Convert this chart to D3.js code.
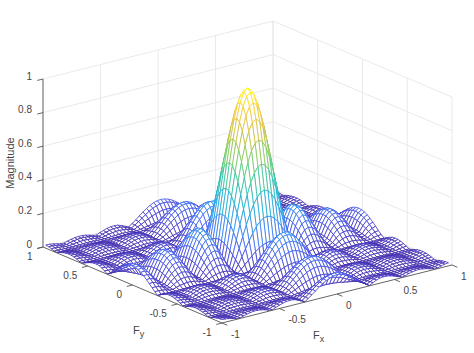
<!DOCTYPE html>
<html>
<head>
<meta charset="utf-8">
<script src="https://cdn.jsdelivr.net/npm/d3@7"></script>
<style>
html, body { margin: 0; padding: 0; background: #fff; }
text { font-family: "Liberation Sans", Arial, sans-serif; fill: #454545; }
</style>
</head>
<body>
<svg id="chart"></svg>
<script>
// frequency samples of one mesh direction, the mesh stops one step short of +1
let freqs = [-1, -0.96875, -0.9375, -0.90625, -0.875, -0.84375, -0.8125, -0.78125, -0.75, -0.71875, -0.6875,
	-0.65625, -0.625, -0.59375, -0.5625, -0.53125, -0.5, -0.46875, -0.4375, -0.40625, -0.375, -0.34375,
	-0.3125, -0.28125, -0.25, -0.21875, -0.1875, -0.15625, -0.125, -0.09375, -0.0625, -0.03125, 0,
	0.03125, 0.0625, 0.09375, 0.125, 0.15625, 0.1875, 0.21875, 0.25, 0.28125, 0.3125, 0.34375, 0.375,
	0.40625, 0.4375, 0.46875, 0.5, 0.53125, 0.5625, 0.59375, 0.625, 0.65625, 0.6875, 0.71875, 0.75,
	0.78125, 0.8125, 0.84375, 0.875, 0.90625, 0.9375, 0.96875];

// magnitudes estimated for one quadrant, row = |Fy|, column = |Fx|, steps of 1/32.
// the surface looks symmetric about both axes so the other quadrants mirror this one
let magnitude = [
	[1,.981,.925,.835,.718,.582,.434,.285,.143,.016,.088,.166,.214,.233,.224,.192,.143,.082,.018,.043,.095,.134,.155,.158,.143,.112,.070,.022,.028,.074,.105,.118,.115],
	[.981,.962,.907,.819,.704,.571,.426,.280,.140,.016,.086,.163,.210,.229,.220,.188,.140,.080,.018,.042,.093,.131,.152,.155,.140,.110,.069,.022,.027,.073,.103,.115,.113],
	[.925,.907,.856,.772,.664,.538,.401,.264,.132,.015,.081,.154,.198,.216,.207,.178,.132,.076,.017,.040,.088,.124,.143,.146,.132,.104,.065,.020,.026,.068,.097,.109,.106],
	[.835,.819,.772,.697,.600,.486,.362,.238,.119,.013,.073,.139,.179,.195,.187,.160,.119,.068,.015,.036,.079,.112,.129,.132,.119,.094,.058,.018,.023,.062,.088,.099,.096],
	[.718,.704,.664,.600,.516,.418,.312,.205,.103,.011,.063,.119,.154,.167,.161,.138,.103,.059,.013,.031,.068,.096,.111,.113,.103,.080,.050,.016,.020,.053,.076,.085,.083],
	[.582,.571,.538,.486,.418,.339,.253,.166,.083,.009,.051,.097,.125,.136,.130,.112,.083,.048,.010,.025,.055,.078,.090,.092,.083,.065,.041,.013,.016,.043,.061,.069,.067],
	[.434,.426,.401,.362,.312,.253,.188,.124,.062,.007,.038,.072,.093,.101,.097,.083,.062,.036,.008,.019,.041,.058,.067,.069,.062,.049,.030,.010,.012,.032,.045,.052,.050],
	[.285,.280,.264,.238,.205,.166,.124,.081,.041,.005,.025,.047,.061,.066,.064,.055,.041,.023,.005,.012,.027,.038,.044,.045,.041,.032,.020,.006,.008,.021,.030,.033,.033],
	[.143,.140,.132,.119,.103,.083,.062,.041,.020,.002,.013,.024,.031,.033,.032,.027,.020,.012,.003,.006,.014,.019,.022,.023,.020,.016,.010,.003,.004,.011,.015,.017,.016],
	[.016,.016,.015,.013,.011,.009,.007,.005,.002,.000,.001,.003,.003,.004,.004,.003,.002,.001,.000,.001,.002,.002,.002,.003,.002,.002,.001,.000,.000,.001,.002,.002,.002],
	[.088,.086,.081,.073,.063,.051,.038,.025,.013,.001,.008,.015,.019,.021,.020,.017,.013,.007,.002,.004,.008,.012,.014,.014,.013,.010,.006,.002,.002,.007,.010,.012,.013],
	[.166,.163,.154,.139,.119,.097,.072,.047,.024,.003,.015,.028,.036,.039,.037,.032,.024,.014,.003,.007,.016,.022,.026,.026,.024,.019,.012,.004,.005,.012,.018,.022,.024],
	[.214,.210,.198,.179,.154,.125,.093,.061,.031,.003,.019,.036,.046,.050,.048,.041,.031,.018,.004,.009,.020,.029,.033,.034,.031,.024,.015,.005,.006,.016,.024,.029,.031],
	[.233,.229,.216,.195,.167,.136,.101,.066,.033,.004,.021,.039,.050,.054,.052,.045,.033,.019,.004,.010,.022,.031,.036,.037,.033,.026,.016,.005,.007,.017,.026,.031,.033],
	[.224,.220,.207,.187,.161,.130,.097,.064,.032,.004,.020,.037,.048,.052,.050,.043,.032,.018,.004,.010,.021,.030,.035,.035,.032,.025,.016,.005,.006,.017,.025,.030,.032],
	[.192,.188,.178,.160,.138,.112,.083,.055,.027,.003,.017,.032,.041,.045,.043,.037,.027,.016,.003,.008,.018,.026,.030,.030,.027,.022,.013,.004,.005,.014,.021,.026,.027],
	[.143,.140,.132,.119,.103,.083,.062,.041,.020,.002,.013,.024,.031,.033,.032,.027,.020,.012,.003,.006,.014,.019,.022,.023,.020,.016,.010,.003,.004,.011,.016,.019,.020],
	[.082,.080,.076,.068,.059,.048,.036,.023,.012,.001,.007,.014,.018,.019,.018,.016,.012,.007,.001,.004,.008,.011,.013,.013,.012,.009,.006,.002,.002,.006,.009,.011,.012],
	[.018,.018,.017,.015,.013,.010,.008,.005,.003,.000,.002,.003,.004,.004,.004,.003,.003,.001,.000,.001,.002,.002,.003,.003,.003,.002,.001,.000,.001,.001,.002,.002,.003],
	[.043,.042,.040,.036,.031,.025,.019,.012,.006,.001,.004,.007,.009,.010,.010,.008,.006,.004,.001,.002,.004,.006,.007,.007,.006,.005,.003,.001,.001,.003,.005,.006,.006],
	[.095,.093,.088,.079,.068,.055,.041,.027,.014,.002,.008,.016,.020,.022,.021,.018,.014,.008,.002,.004,.009,.013,.015,.015,.014,.011,.007,.002,.003,.007,.011,.013,.014],
	[.134,.131,.124,.112,.096,.078,.058,.038,.019,.002,.012,.022,.029,.031,.030,.026,.019,.011,.002,.006,.013,.018,.021,.021,.019,.015,.009,.003,.004,.010,.015,.018,.019],
	[.155,.152,.143,.129,.111,.090,.067,.044,.022,.002,.014,.026,.033,.036,.035,.030,.022,.013,.003,.007,.015,.021,.024,.024,.022,.017,.011,.003,.004,.011,.017,.021,.022],
	[.158,.155,.146,.132,.113,.092,.069,.045,.023,.003,.014,.026,.034,.037,.035,.030,.023,.013,.003,.007,.015,.021,.024,.025,.023,.018,.011,.003,.004,.012,.018,.021,.023],
	[.143,.140,.132,.119,.103,.083,.062,.041,.020,.002,.013,.024,.031,.033,.032,.027,.020,.012,.003,.006,.014,.019,.022,.023,.020,.016,.010,.003,.004,.011,.016,.019,.020],
	[.112,.110,.104,.094,.080,.065,.049,.032,.016,.002,.010,.019,.024,.026,.025,.022,.016,.009,.002,.005,.011,.015,.017,.018,.016,.013,.008,.002,.003,.008,.012,.015,.016],
	[.070,.069,.065,.058,.050,.041,.030,.020,.010,.001,.006,.012,.015,.016,.016,.013,.010,.006,.001,.003,.007,.009,.011,.011,.010,.008,.005,.002,.002,.005,.008,.009,.010],
	[.022,.022,.020,.018,.016,.013,.010,.006,.003,.000,.002,.004,.005,.005,.005,.004,.003,.002,.000,.001,.002,.003,.003,.003,.003,.002,.002,.000,.001,.002,.002,.003,.003],
	[.028,.027,.026,.023,.020,.016,.012,.008,.004,.000,.002,.005,.006,.007,.006,.005,.004,.002,.001,.001,.003,.004,.004,.004,.004,.003,.002,.001,.001,.002,.003,.004,.004],
	[.074,.073,.068,.062,.053,.043,.032,.021,.011,.001,.007,.012,.016,.017,.017,.014,.011,.006,.001,.003,.007,.010,.011,.012,.011,.008,.005,.002,.002,.005,.008,.010,.011],
	[.105,.103,.097,.088,.076,.061,.045,.030,.015,.002,.010,.018,.024,.026,.025,.021,.016,.009,.002,.005,.011,.015,.017,.018,.016,.012,.008,.002,.003,.008,.012,.015,.016],
	[.118,.115,.109,.099,.085,.069,.052,.033,.017,.002,.012,.022,.029,.031,.030,.026,.019,.011,.002,.006,.013,.018,.021,.021,.019,.015,.009,.003,.004,.010,.015,.018,.019],
	[.115,.113,.106,.096,.083,.067,.050,.033,.016,.002,.013,.024,.031,.033,.032,.027,.020,.012,.003,.006,.014,.019,.022,.023,.020,.016,.010,.003,.004,.011,.016,.019,.020]
];

let xyTicks = [-1, -0.5, 0, 0.5, 1];
let xyTickLabels = ['-1', '-0.5', '0', '0.5', '1'];
let zTicks = [0, 0.2, 0.4, 0.6, 0.8, 1];
let zTickLabels = ['0', '0.2', '0.4', '0.6', '0.8', '1'];

let parula = ['#3e26a8', '#4756f9', '#2796eb', '#12b1d6', '#37c897', '#81cc59', '#cfc040', '#fec338', '#f9fb15'];

function makeChart() {
	let w = 474;
	let h = 353;
	let chart = d3.select('#chart').attr('width', w).attr('height', h);

	// oblique projection, each data axis moves the point along its own screen direction
	let fxX = d3.scaleLinear().domain([-1, 1]).range([222, 452]);
	let fxY = d3.scaleLinear().domain([-1, 1]).range([323, 265]);
	let fyX = d3.scaleLinear().domain([-1, 1]).range([0, -179]);
	let fyY = d3.scaleLinear().domain([-1, 1]).range([0, -76]);
	let zY = d3.scaleLinear().domain([0, 1]).range([0, -168]);
	let px = (fx, fy) => fxX(fx) + fyX(fy);
	let py = (fx, fy, z) => fxY(fx) + fyY(fy) + zY(z);

	let color = d3.scaleSequential(d3.interpolateRgbBasis(parula)).domain([0, 1]);

	let mid = freqs.indexOf(0);
	let zAt = (i, j) => magnitude[Math.abs(j - mid)][Math.abs(i - mid)];

	// walls
	let grid = chart.append('g').attr('stroke', '#e4e4e4').attr('stroke-width', 0.8);
	xyTicks.forEach(t => {
		grid.append('line').attr('x1', px(t, 1)).attr('y1', py(t, 1, 0))
			.attr('x2', px(t, 1)).attr('y2', py(t, 1, 1));
		grid.append('line').attr('x1', px(1, t)).attr('y1', py(1, t, 0))
			.attr('x2', px(1, t)).attr('y2', py(1, t, 1));
	});
	zTicks.forEach(t => {
		grid.append('line').attr('x1', px(-1, 1)).attr('y1', py(-1, 1, t))
			.attr('x2', px(1, 1)).attr('y2', py(1, 1, t));
		grid.append('line').attr('x1', px(1, 1)).attr('y1', py(1, 1, t))
			.attr('x2', px(1, -1)).attr('y2', py(1, -1, t));
	});

	// mesh cells back to front, white faces hide what is behind
	let cells = [];
	for (let i = freqs.length - 2; i >= 0; i--) {
		for (let j = freqs.length - 2; j >= 0; j--) {
			let c = [[i, j], [i + 1, j], [i + 1, j + 1], [i, j + 1]].map(p => ({
				x: px(freqs[p[0]], freqs[p[1]]),
				y: py(freqs[p[0]], freqs[p[1]], zAt(p[0], p[1])),
				z: zAt(p[0], p[1])
			}));
			cells.push(c);
		}
	}

	let mesh = chart.append('g').selectAll('g')
		.data(cells)
		.enter()
		.append('g');

	mesh.append('path')
		.attr('d', d => 'M' + d.map(p => p.x + ',' + p.y).join('L') + 'Z')
		.attr('fill', '#fff');

	mesh.selectAll('line')
		.data(d => d.map((p, k) => [p, d[(k + 1) % 4]]))
		.enter()
		.append('line')
		.attr('x1', d => d[0].x)
		.attr('y1', d => d[0].y)
		.attr('x2', d => d[1].x)
		.attr('y2', d => d[1].y)
		.attr('stroke', d => color((d[0].z + d[1].z) / 2))
		.attr('stroke-width', 0.8);

	// axes
	let axes = chart.append('g').attr('stroke', '#555').attr('stroke-width', 0.9);
	axes.append('line').attr('x1', px(-1, 1)).attr('y1', py(-1, 1, 0)).attr('x2', px(-1, 1)).attr('y2', py(-1, 1, 1));
	axes.append('line').attr('x1', px(-1, 1)).attr('y1', py(-1, 1, 0)).attr('x2', px(-1, -1)).attr('y2', py(-1, -1, 0));
	axes.append('line').attr('x1', px(-1, -1)).attr('y1', py(-1, -1, 0)).attr('x2', px(1, -1)).attr('y2', py(1, -1, 0));

	zTicks.forEach((t, k) => {
		axes.append('line').attr('x1', px(-1, 1)).attr('y1', py(-1, 1, t))
			.attr('x2', px(-1.05, 1)).attr('y2', py(-1.05, 1, t));
		chart.append('text').attr('x', px(-1, 1) - 11).attr('y', py(-1, 1, t) - 2)
			.attr('text-anchor', 'end').attr('dominant-baseline', 'middle')
			.style('font-size', '10px').text(zTickLabels[k]);
	});
	xyTicks.forEach((t, k) => {
		axes.append('line').attr('x1', px(-1, t)).attr('y1', py(-1, t, 0))
			.attr('x2', px(-1.05, t)).attr('y2', py(-1.05, t, 0));
		chart.append('text').attr('x', px(-1, t) - 10.5).attr('y', py(-1, t, 0) + 10)
			.attr('text-anchor', 'end').attr('dominant-baseline', 'middle')
			.style('font-size', '10px').text(xyTickLabels[k]);
		axes.append('line').attr('x1', px(t, -1)).attr('y1', py(t, -1, 0))
			.attr('x2', px(t, -1.06)).attr('y2', py(t, -1.06, 0));
		chart.append('text').attr('x', px(t, -1) + 9).attr('y', py(t, -1, 0) + 12)
			.attr('text-anchor', 'start').attr('dominant-baseline', 'middle')
			.style('font-size', '10px').text(xyTickLabels[k]);
	});

	// axis titles
	chart.append('text')
		.attr('transform', 'translate(14, 163) rotate(-90)')
		.attr('text-anchor', 'middle')
		.style('font-size', '11px')
		.text('Magnitude');

	let fy = chart.append('text').attr('x', 133).attr('y', 334).style('font-size', '11px');
	fy.append('tspan').text('F');
	fy.append('tspan').attr('dy', 3).style('font-size', '9px').text('y');

	let fx = chart.append('text').attr('x', 313).attr('y', 339).style('font-size', '11px');
	fx.append('tspan').text('F');
	fx.append('tspan').attr('dy', 3).style('font-size', '9px').text('x');
}

window.onload = function () {
	makeChart();
}
</script>
</body>
</html>
